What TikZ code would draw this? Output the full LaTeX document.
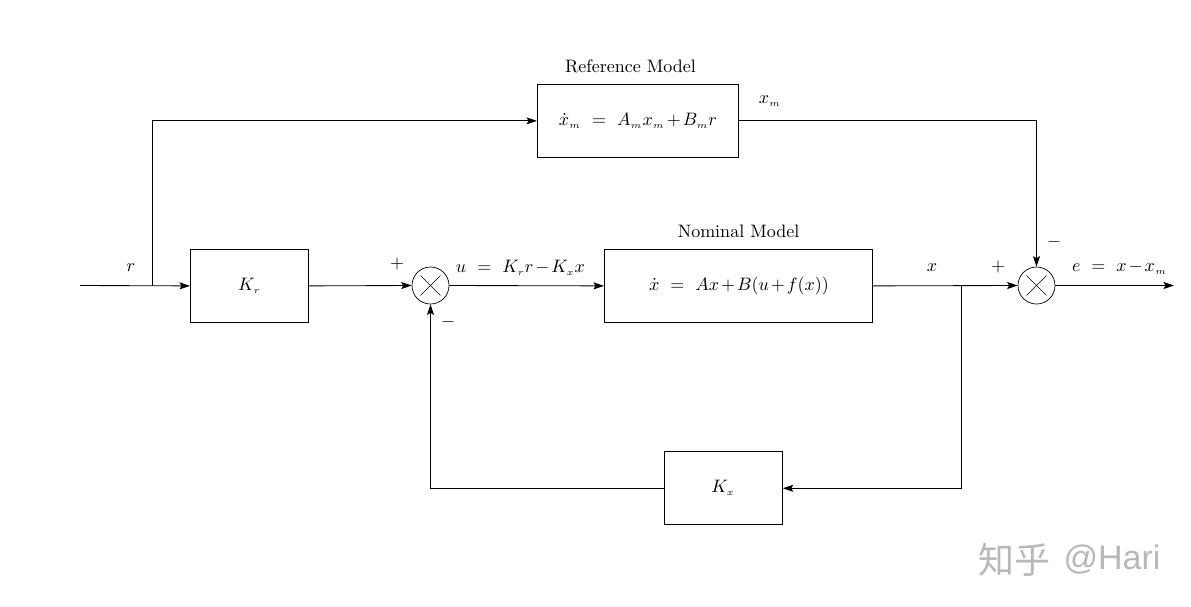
\documentclass[tikz,border=0pt]{standalone}
\usepackage{fontspec}
\usetikzlibrary{arrows.meta}
\newfontfamily\cjk{Noto Sans CJK SC}
\newfontfamily\wm{Liberation Sans}
\AtBeginDocument{\medmuskip=2mu\relax}
\DeclareMathSizes{10}{10}{5}{5}
\tikzset{
 block/.style={draw,line width=0.75pt,inner sep=0pt,anchor=north west},
 sumj/.style={circle,draw,line width=0.7pt,minimum size=37pt,inner sep=0pt},
 crossl/.style={line width=0.6pt,shorten >=4.8pt,shorten <=4.8pt},
 conn/.style={line width=0.85pt,-{Stealth[length=10.5pt,width=7pt,inset=2pt]}},
 lab/.style={inner sep=0pt,transform shape,scale=1.8,font=\fontsize{10}{12}\selectfont},
 wmark/.style={inner sep=0pt,text=black!28},
}
\begin{document}
\begin{tikzpicture}[x=1pt,y=-1pt]
\useasboundingbox (0,0) rectangle (1191,606);
\fill[white] (0,0) rectangle (1191,606);
\node[block,minimum width=201pt,minimum height=73pt] (ref) at (537,84) {};
\node[block,minimum width=118pt,minimum height=73pt] (kr) at (190,249) {};
\node[block,minimum width=268pt,minimum height=73pt] (nom) at (604,249) {};
\node[block,minimum width=118pt,minimum height=73pt] (kx) at (664,451.4) {};
\node[sumj] (s1) at (430.5,285.5) {};
\node[sumj] (s2) at (1036.5,285.5) {};
\draw[crossl] (s1.north west)--(s1.south east);
\draw[crossl] (s1.north east)--(s1.south west);
\draw[crossl] (s2.north west)--(s2.south east);
\draw[crossl] (s2.north east)--(s2.south west);
\coordinate (in) at (80,285.5);
\coordinate (br) at (152.5,285.5);
\coordinate (tap) at (961.5,285.5);
\coordinate (out) at (1174,285.5);
\draw[conn] (in)--(kr.west);
\draw[conn] (br)|-(ref.west);
\draw[conn] (kr.east)--(s1.west);
\draw[conn] (s1.east)--(nom.west);
\draw[conn] (nom.east)--(s2.west);
\draw[conn] (s2.east)--(out);
\draw[conn] (ref.east)-|(s2.north);
\draw[conn] (tap)|-(kx.east);
\draw[conn] (kx.west)-|(s1.south);
\node[lab] (t1) at (630.5,66) {Reference Model};
\node[lab] (t2) at (738.5,231) {Nominal Model};
\node[lab] (e1) at (638,121) {$\dot{x}_m\ =\ A_m x_m + B_m r$};
\node[lab] (e2) at (739,285.5) {$\dot{x}\ =\ Ax + B(u + f(x))$};
\node[lab] (kr1) at (249.5,285.5) {$K_r$};
\node[lab] (kx1) at (723,488) {$K_x$};
\node[lab] (lr) at (131,268) {$r$};
\node[lab] (lxm) at (770,101) {$x_m$};
\node[lab] (lu) at (520.5,268) {$u\ =\ K_r r - K_x x$};
\node[lab] (lx) at (932,268) {$x$};
\node[lab] (le) at (1119.5,268) {$e\ =\ x - x_m$};
\node[lab] (p1) at (397,264) {$+$};
\node[lab] (m1) at (448,322) {$-$};
\node[lab] (p2) at (998,267) {$+$};
\node[lab] (m2) at (1054,242) {$-$};
\node[wmark,font=\cjk\fontsize{36}{38}\selectfont] (w1) at (1014,560) {知乎};
\node[wmark,font=\wm\fontsize{34}{36}\selectfont] (w2) at (1112,560) {@Hari};
\end{tikzpicture}
\end{document}
